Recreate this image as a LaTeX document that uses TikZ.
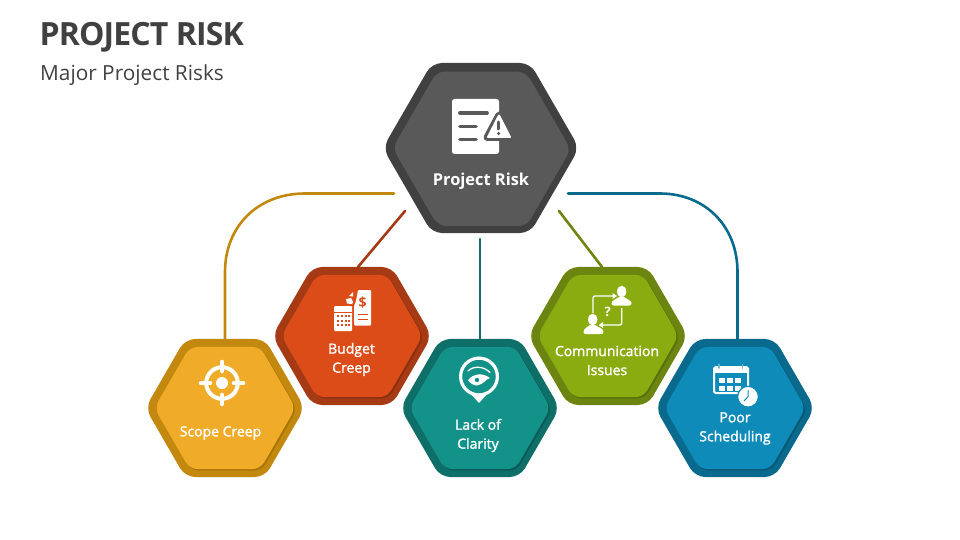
\documentclass[tikz,border=0pt]{standalone}
\usepackage{fontspec}
\setmainfont{Open Sans}
\newfontfamily\labfont[FakeBold=1.6]{Open Sans}
\newfontfamily\titlefont[LetterSpace=-2.8]{Open Sans Bold}
\usetikzlibrary{shapes.geometric,calc}
\definecolor{txt}{HTML}{404040}
\definecolor{cO}{HTML}{404040}\definecolor{cI}{HTML}{595959}
\definecolor{sO}{HTML}{C3880E}\definecolor{sI}{HTML}{F0AB28}\definecolor{sS}{HTML}{A87508}
\definecolor{bO}{HTML}{A53A14}\definecolor{bI}{HTML}{DC4C18}\definecolor{bS}{HTML}{8A300F}
\definecolor{lO}{HTML}{0E6E68}\definecolor{lI}{HTML}{13928A}\definecolor{lS}{HTML}{0A5A55}
\definecolor{mO}{HTML}{6C8510}\definecolor{mI}{HTML}{8AAC10}\definecolor{mS}{HTML}{5A700C}
\definecolor{pO}{HTML}{0A6A8E}\definecolor{pI}{HTML}{0E8BB8}\definecolor{pS}{HTML}{085874}
\tikzset{
  hexa/.style={regular polygon,regular polygon sides=6,inner sep=0pt,outer sep=0pt},
  lab/.style={text=white,align=center,inner sep=0pt,font=\labfont\fontsize{14}{19}\selectfont},
  link/.style={line width=2.6pt,line cap=round},
  ic/.style={fill=white,draw=none},
}
% name, x, y, outer colour, inner colour, shadow colour, outer size, inner size
\newcommand{\hexpair}[8]{
  \node[hexa,fill=#4,minimum size=#7pt,rounded corners=10pt] (#1) at (#2,#3) {};
  \node[hexa,fill=#6,minimum size=#8pt,rounded corners=8pt] (#1s) at (#2+1.5,#3+1.5) {};
  \node[hexa,fill=#5,minimum size=#8pt,rounded corners=8pt] (#1i) at (#2,#3) {};
}
\begin{document}
\begin{tikzpicture}[x=1pt,y=-1pt]
\useasboundingbox (0,0) rectangle (960,540);

% title
\node[anchor=base west,inner sep=0pt,text=txt,font=\fontsize{32}{36}\selectfont] (title) at (39.5,46) {\titlefont PROJECT RISK};
\node[anchor=base west,inner sep=0pt,text=txt,font=\fontsize{20.8}{24}\selectfont] (sub) at (40,80.5) {Major Project Risks};

% free ends near the central hexagon
\coordinate (fs) at (394,193.5);
\coordinate (fb) at (405,211);
\coordinate (fl) at (480,239);
\coordinate (fm) at (559,211);
\coordinate (fp) at (568,193.5);

% hexagons
\hexpair{center}{481}{148}{cO}{cI}{cI}{196.3}{176.6}
\hexpair{scope}{225}{408}{sO}{sI}{sS}{159.4}{141.2}
\hexpair{budget}{352}{336}{bO}{bI}{bS}{159.4}{141.2}
\hexpair{lack}{480}{408}{lO}{lI}{lS}{159.4}{141.2}
\hexpair{comm}{608}{336}{mO}{mI}{mS}{159.4}{141.2}
\hexpair{poor}{735}{408}{pO}{pI}{pS}{159.4}{141.2}

% connectors
\draw[link,color=sO] (fs) -- (305,193.5) .. controls (258,193.5) and (225,226) .. (225,272) -- (scope.north);
\draw[link,color=bO] (fb) -- ($(budget.north)+(6,0)$);
\draw[link,color=lO] (fl) -- (lack.north);
\draw[link,color=mO] (fm) -- ($(comm.north)+(-6,0)$);
\draw[link,color=pO] (fp) -- (660,193.5) .. controls (705,193.5) and (737.5,226) .. (737.5,272) -- ($(poor.north)+(2.5,0)$);

% labels
\node[text=white,inner sep=0pt,font=\bfseries\fontsize{16.4}{19}\selectfont] (tcenter) at (481,181.5) {Project Risk};
\node[lab] (tscope) at (220.5,433) {Scope Creep};
\node[lab] (tbudget) at (351.5,359.5) {Budget\\Creep};
\node[lab] (tlack) at (478,435.5) {Lack of\\Clarity};
\node[lab] (tcomm) at (607,360.5) {Communication\\Issues};
\node[lab] (tpoor) at (735,428.5) {Poor\\Scheduling};

% icon: report with warning
\fill[ic,rounded corners=2.5pt] (452,99) rectangle (499,154);
\draw[cI,line width=3.8pt,line cap=round] (460,113) -- (487,113) (460,126.5) -- (476,126.5) (460,139.5) -- (476,139.5);
\draw[cI,line width=7pt,line join=round,fill=cI] (499,115) -- (487,137.5) -- (510.5,137.5) -- cycle;
\draw[white,fill=white,line width=2pt,line join=round] (499,115.5) -- (488,137) -- (510,137) -- cycle;
\draw[cI,line width=3pt,line cap=round] (498.6,122) -- (498.6,129);
\fill[cI] (498.6,133.5) circle (1.8);

% icon: target
\draw[white,line width=4pt] (222,383) circle (15.8);
\fill[white] (222,383) circle (6);
\draw[white,line width=4.6pt,line cap=round] (222,362) -- (222,371) (222,395) -- (222,404) (201,383) -- (210,383) (234,383) -- (243,383);

% icon: calculator and bill
\fill[ic,rounded corners=1pt] (334,306) rectangle (352,331);
\fill[bI] (334,311.5) rectangle (352,312.8);
\foreach \cx in {337.5,341.5,345.5,349}{\foreach \cy in {316,320.5,325}{\fill[bI] (\cx-1,\cy-1) rectangle (\cx+1,\cy+1);}}
\fill[ic,rounded corners=1pt] (358,290) -- (371,290) -- (371,325.5) -- (354,325.5) -- (354,306) -- (356,301) -- cycle;
\fill[ic] (346,299) -- (351,298) -- (353,302) -- (352,304) -- (347,303.5) -- cycle;
\fill[ic] (349,296) -- (353,292) -- (353,296.5) -- cycle;
\node[inner sep=0pt,text=bI,font=\bfseries\fontsize{14}{14}\selectfont] (dollar) at (362.5,303) {\$};
\draw[bI,line width=1.4pt] (358,314.5) -- (368,314.5) (358,319.5) -- (368,319.5);

% icon: eye pin
\fill[ic] (469,392) -- (479,403) -- (489,392) -- cycle;
\draw[white,fill=lI,line width=3.2pt] (479,376.5) circle (18.4);
\draw[white,line width=1.3pt,line cap=round] (468,371) .. controls (473,366) and (483,365.5) .. (490,372.5);
\fill[ic] (468,380) .. controls (473,374) and (482,372) .. (490,378) .. controls (486,378.5) and (484,384.5) .. (477,385.5) .. controls (473,385.5) and (470,383) .. (468,380) -- cycle;
\fill[lI] (477,380) circle (2.2);

% icon: two people with arrows
\fill[ic] (621.7,291.5) ellipse (4.6 and 5.8);
\fill[ic,rounded corners=2pt] (611.5,305.5) .. controls (611.5,300) and (617,299) .. (621.7,295) .. controls (626,299) and (631.5,300) .. (631.5,305.5) -- cycle;
\fill[ic] (592.7,319.5) ellipse (4.6 and 5.8);
\fill[ic,rounded corners=2pt] (583.5,334) .. controls (583.5,328) and (588,327) .. (592.7,323) .. controls (597,327) and (603.5,328) .. (603.5,334) -- cycle;
\draw[white,line width=1.3pt,rounded corners=2pt] (593,313) -- (593,296) -- (614,296);
\fill[ic] (617,296) -- (612.5,293) -- (612.5,299) -- cycle;
\draw[white,line width=1.3pt,rounded corners=2pt] (621.7,308) -- (621.7,325) -- (601,325);
\fill[ic] (598.5,325) -- (603,322) -- (603,328) -- cycle;
\node[inner sep=0pt,text=white,font=\bfseries\fontsize{13}{13}\selectfont] (qmark) at (607.7,312) {?};

% icon: calendar and clock
\draw[white,fill=pI,line width=2pt,rounded corners=1.5pt] (714,367) rectangle (748,393);
\fill[ic] (714,367) rectangle (748,373);
\foreach \cx in {722,730,737.6}{\foreach \cy in {380.5,388.5}{\fill[ic] (\cx-3,\cy-2.8) rectangle (\cx+3,\cy+2.8);}}
\draw[pI!60!white,line width=1.6pt,line cap=round] (719,364.5) -- (719,368) (742.3,364.5) -- (742.3,368);
\fill[ic,draw=pI,line width=1.2pt] (748,396.7) circle (10.4);
\draw[pI,line width=1pt,line cap=round] (748,396.7) -- (748,390.5) (748,396.7) -- (744,401);
\end{tikzpicture}
\end{document}
